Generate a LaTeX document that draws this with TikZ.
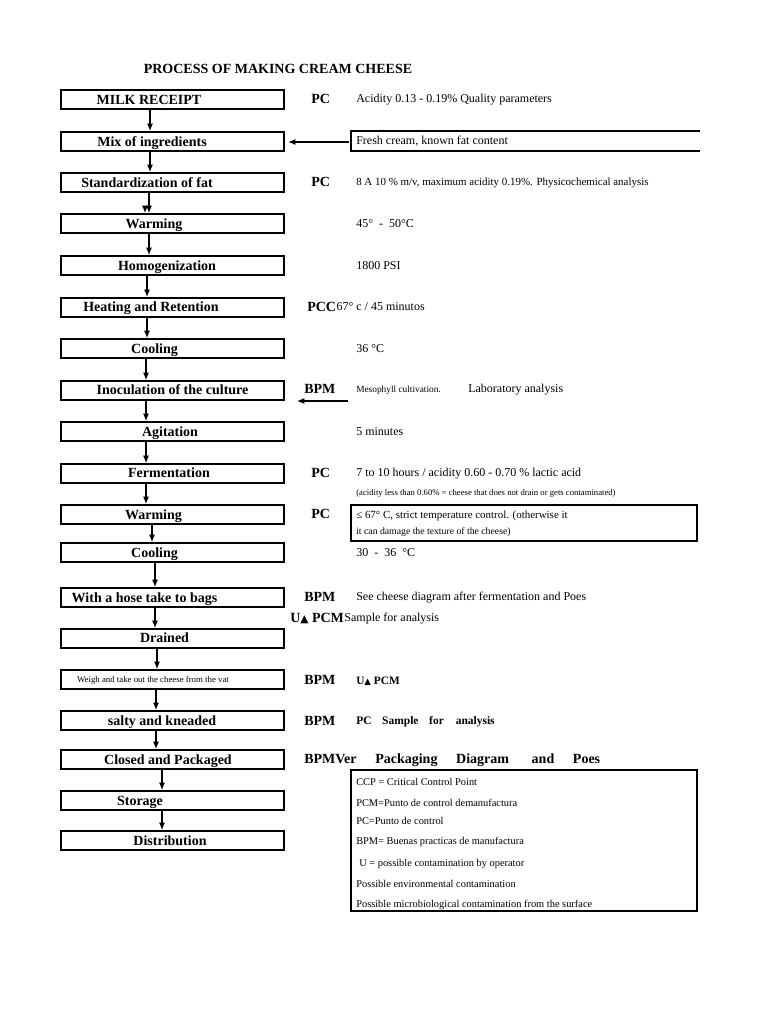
\documentclass[tikz,border=0pt]{standalone}
\usepackage{fontspec}
\setmainfont{Liberation Serif}
\newfontfamily\symfont{DejaVu Sans}
\usetikzlibrary{arrows.meta}
\newcommand\myfs[1]{\fontsize{#1}{#1}\selectfont}
\begin{document}
\begin{tikzpicture}[x=0.75pt,y=-0.75pt,
  box/.style={draw,line width=1.5pt,minimum width=167.25pt,minimum height=14.25pt,inner sep=0pt},
  blbl/.style={font=\myfs{10.5pt}\bfseries,inner sep=0pt,anchor=base},
  tag/.style={font=\myfs{10.5pt}\bfseries,inner sep=0pt,anchor=west},
  txt/.style={font=\myfs{9pt},inner sep=0pt,anchor=west},
  arr/.style={line width=0.8pt,-{Latex[length=5.5pt,width=4.5pt]}},
  frame/.style={line width=1.5pt}
]
\useasboundingbox (0,0) rectangle (768,1024);

% title
\node[blbl] (title) at (278,74) {PROCESS OF MAKING CREAM CHEESE};

% boxes
\node[box] (b1)  at (172.5,99.5)  {};
\node[box] (b2)  at (172.5,141.5) {};
\node[box] (b3)  at (172.5,182.5) {};
\node[box] (b4)  at (172.5,223.5) {};
\node[box] (b5)  at (172.5,265.5) {};
\node[box] (b6)  at (172.5,307.5) {};
\node[box] (b7)  at (172.5,348.5) {};
\node[box] (b8)  at (172.5,390.5) {};
\node[box] (b9)  at (172.5,431.5) {};
\node[box] (b10) at (172.5,473.5) {};
\node[box] (b11) at (172.5,514.5) {};
\node[box] (b12) at (172.5,552.5) {};
\node[box] (b13) at (172.5,597.5) {};
\node[box] (b14) at (172.5,638.5) {};
\node[box] (b15) at (172.5,679.5) {};
\node[box] (b16) at (172.5,720.5) {};
\node[box] (b17) at (172.5,759.5) {};
\node[box] (b18) at (172.5,800.5) {};
\node[box] (b19) at (172.5,840.5) {};

% box labels
\node[blbl] (l1)  at (149,104)    {MILK RECEIPT};
\node[blbl] (l2)  at (152,146)    {Mix of ingredients};
\node[blbl] (l3)  at (147,187)    {Standardization of fat};
\node[blbl] (l4)  at (154,228)    {Warming};
\node[blbl] (l5)  at (167,270)    {Homogenization};
\node[blbl] (l6)  at (151,311.5)  {Heating and Retention};
\node[blbl] (l7)  at (154.5,353)  {Cooling};
\node[blbl] (l8)  at (172.5,394.5){Inoculation of the culture};
\node[blbl] (l9)  at (170,436)    {Agitation};
\node[blbl] (l10) at (169,477.5)  {Fermentation};
\node[blbl] (l11) at (153.5,519)  {Warming};
\node[blbl] (l12) at (154.5,557)  {Cooling};
\node[blbl] (l13) at (144.5,602)  {With a hose take to bags};
\node[blbl] (l14) at (164.5,642.5){Drained};
\node[inner sep=0pt,font=\myfs{6.6pt},anchor=base] (l15) at (153,682.5) {Weigh and take out the cheese from the vat};
\node[blbl] (l16) at (162,725)    {salty and kneaded};
\node[blbl] (l17) at (168,764)    {Closed and Packaged};
\node[blbl] (l18) at (140,805)    {Storage};
\node[blbl] (l19) at (170,845)    {Distribution};

% vertical arrows
\draw[arr] (150,0 |- b1.south)  -- (150,0 |- b2.north);
\draw[arr] (150,0 |- b2.south)  -- (150,0 |- b3.north);
\draw[arr] (149,0 |- b3.south)  -- (149,0 |- b4.north);
\draw[arr] (145,0 |- b4.north) ++(0,-5) coordinate (dbl) -- (145,0 |- b4.north);
\draw[arr] (149,0 |- b4.south)  -- (149,0 |- b5.north);
\draw[arr] (147,0 |- b5.south)  -- (147,0 |- b6.north);
\draw[arr] (147,0 |- b6.south)  -- (147,0 |- b7.north);
\draw[arr] (146,0 |- b7.south)  -- (146,0 |- b8.north);
\draw[arr] (146,0 |- b8.south)  -- (146,0 |- b9.north);
\draw[arr] (146,0 |- b9.south)  -- (146,0 |- b10.north);
\draw[arr] (146,0 |- b10.south) -- (146,0 |- b11.north);
\draw[arr] (152,0 |- b11.south) -- (152,0 |- b12.north);
\draw[arr] (155,0 |- b12.south) -- (155,0 |- b13.north);
\draw[arr] (155,0 |- b13.south) -- (155,0 |- b14.north);
\draw[arr] (157,0 |- b14.south) -- (157,0 |- b15.north);
\draw[arr] (156,0 |- b15.south) -- (156,0 |- b16.north);
\draw[arr] (156,0 |- b16.south) -- (156,0 |- b17.north);
\draw[arr] (162,0 |- b17.south) -- (162,0 |- b18.north);
\draw[arr] (162,0 |- b18.south) -- (162,0 |- b19.north);

% row 1
\node[tag] (p1) at (311,99) {PC};
\node[txt] (r1) at (356,100) {Acidity 0.13 - 0.19\% Quality parameters};

% row 2: fresh cream (open box)
\coordinate (fcA) at (700,131);
\coordinate (fcB) at (351,131);
\coordinate (fcC) at (351,151);
\coordinate (fcD) at (700,151);
\draw[frame] (fcA) -- (fcB) -- (fcC) -- (fcD);
\node[txt] (r2) at (356,141.5) {Fresh cream, known fat content};
\coordinate (fcin) at (349,142);
\draw[arr,line width=1.1pt] (fcin) -- (288,0 |- fcin);

% row 3
\node[tag] (p3) at (311,182) {PC};
\node[txt,font=\myfs{8.2pt}] (r3) at (356,183) {8 A 10 \% m/v, maximum acidity 0.19\%. Physicochemical analysis};

% row 4-5
\node[txt] (r4) at (356,224) {45°\ \ -\ \ 50°C};
\node[txt] (r5) at (356,266) {1800 PSI};

% row 6
\node[tag] (p6) at (307,307) {PCC};
\node[txt] (r6) at (p6.east) {67° c / 45 minutos};

% row 7
\node[txt] (r7) at (356,349) {36 °C};

% row 8
\node[tag] (p8) at (304,389) {BPM};
\node[txt,font=\myfs{7pt}] (r8) at (356,390) {Mesophyll cultivation.};
\node[txt] (r8b) at (468,390) {Laboratory analysis};
\coordinate (insrc) at (348,401);
\coordinate (indst) at (297,401);
\draw[arr] (insrc) -- (indst);

% row 9
\node[txt] (r9) at (356,432) {5 minutes};

% row 10
\node[tag] (p10) at (311,473) {PC};
\node[txt] (r10) at (356,474) {7 to 10 hours / acidity 0.60 - 0.70 \% lactic acid};
\node[txt,font=\myfs{6.5pt}] (r10b) at (356,493) {(acidity less than 0.60\% = cheese that does not drain or gets contaminated)};

% row 11
\node[tag] (p11) at (311,514) {PC};
\node[draw,line width=1.5pt,minimum width=259.5pt,minimum height=27pt,inner sep=0pt] (wbox) at (524,523) {};
\node[txt,font=\myfs{8.2pt}] (r11) at (356,516) {≤ 67° C, strict temperature control. (otherwise it};
\node[txt,font=\myfs{7.3pt}] (r11b) at (356,532) {it can damage the texture of the cheese)};

% row 12
\node[txt] (r12) at (356,553) {30\ \ -\ \ 36\ \ °C};

% row 13
\node[tag] (p13) at (304,597) {BPM};
\node[txt] (r13) at (356,598) {See cheese diagram after fermentation and Poes};
\node[tag] (p13b) at (290,619) {U{\symfont\myfs{8pt}▲} PCM};
\node[txt] (r13b) at (p13b.east) {Sample for analysis};

% row 15
\node[tag] (p15) at (304,680) {BPM};
\node[tag,font=\myfs{8.5pt}\bfseries] (r15) at (356,681) {U{\symfont\myfs{6.5pt}▲} PCM};

% row 16
\node[tag] (p16) at (304,721) {BPM};
\node[tag,font=\myfs{8.6pt}\bfseries] (r16) at (356,721.5) {PC\hspace{8pt}Sample\hspace{8pt}for\hspace{9pt}analysis};

% row 17
\node[tag] (p17) at (304,760) {BPMVer\hspace{14pt}Packaging\hspace{14pt}Diagram\hspace{17pt}and\hspace{14pt}Poes};

% legend
\node[draw,line width=1.5pt,minimum width=259.5pt,minimum height=105.75pt,inner sep=0pt] (legend) at (524,840.5) {};
\node[txt,font=\myfs{7.8pt}] (g1) at (356,782) {CCP = Critical Control Point};
\node[txt,font=\myfs{7.8pt}] (g2) at (356,803) {PCM=Punto de control demanufactura};
\node[txt,font=\myfs{7.8pt}] (g3) at (356,821) {PC=Punto de control};
\node[txt,font=\myfs{7.8pt}] (g4) at (356,842) {BPM= Buenas practicas de manufactura};
\node[txt,font=\myfs{7.8pt}] (g5) at (359,864) {U = possible contamination by operator};
\node[txt,font=\myfs{7.8pt}] (g6) at (356,884) {Possible environmental contamination};
\node[txt,font=\myfs{7.8pt}] (g7) at (356,905) {Possible microbiological contamination from the surface};
\end{tikzpicture}
\end{document}
